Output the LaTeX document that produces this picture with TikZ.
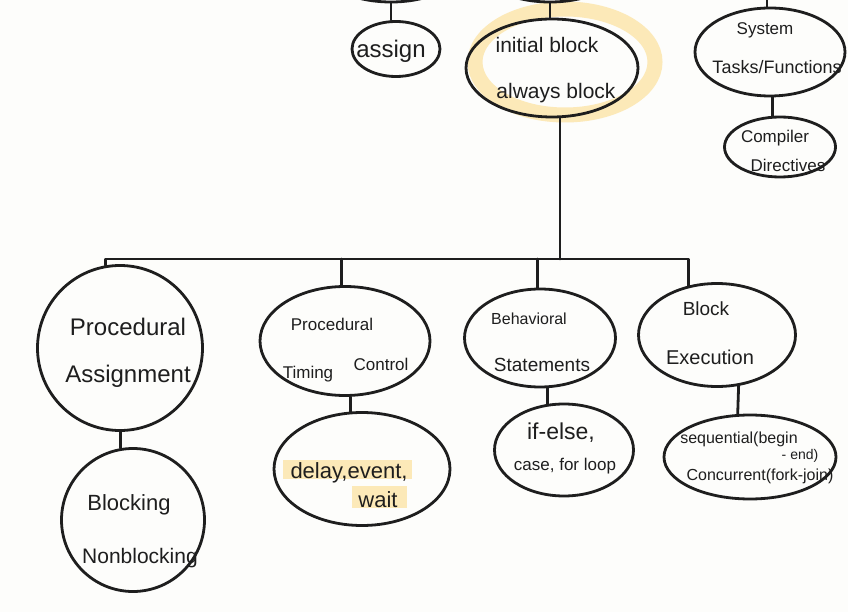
\documentclass[tikz,border=0pt]{standalone}
\usepackage{fontspec}
\setmainfont{Liberation Sans}
\usetikzlibrary{shapes.geometric}
\definecolor{ink}{HTML}{1E1E1E}
\definecolor{hl}{HTML}{FCE9B8}
\definecolor{bg}{HTML}{FDFDFB}
\newcommand\hwsize[1]{\fontsize{#1}{#1}\selectfont}
\begin{document}
\begin{tikzpicture}[x=1pt,y=-1pt,
  bub/.style={draw=ink,line width=2.8pt,ellipse,inner sep=0pt},
  ball/.style={draw=ink,line width=2.8pt,circle,inner sep=0pt},
  link/.style={draw=ink,line width=2.8pt,line cap=round,line join=round},
  hw/.style={text=ink,inner sep=0pt,anchor=base,font=\hwsize{#1}},
  hlring/.style={draw=hl,line width=15pt}
]
\fill[bg] (0,0) rectangle (848,612);
\useasboundingbox (0,0) rectangle (848,612);
\clip (0,0) rectangle (848,612);

% highlight ring around initial/always block
\draw[hlring] (565,62) ellipse [x radius=90, y radius=53];

% bubbles
\node[bub, minimum width=118pt, minimum height=48pt] (p1) at (391,-22) {};
\node[bub, minimum width=118pt, minimum height=48pt] (p2) at (550,-22) {};
\node[bub, minimum width=88pt, minimum height=55pt] (assign) at (396,49) {};
\node[bub, minimum width=172pt, minimum height=98pt] (ib) at (552,68) {};
\node[bub, minimum width=150pt, minimum height=88pt] (sys) at (770,52) {};
\node[bub, minimum width=111pt, minimum height=60pt] (cd) at (780,147) {};
\node[ball, minimum size=165pt] (pa) at (120,348) {};
\node[ball, minimum size=143pt] (bl) at (133,520) {};
\node[bub, minimum width=170pt, minimum height=109pt] (ptc) at (345,341) {};
\node[bub, minimum width=176pt, minimum height=113pt] (dew) at (362,469) {};
\node[bub, minimum width=151pt, minimum height=98pt] (bs) at (540,338) {};
\node[bub, minimum width=157pt, minimum height=103pt] (be) at (717,335) {};
\node[bub, minimum width=139pt, minimum height=92pt] (ife) at (564,450) {};
\node[bub, minimum width=172pt, minimum height=84pt] (seq) at (750,457) {};

% connectors
\coordinate (barL) at (0,259);
\coordinate (systop) at (767,0);
\draw[link] (p1.south) -- (p1.south |- assign.north);
\draw[link] (p2.south) -- (p2.south |- ib.north);
\draw[link] (systop) -- (systop |- sys.north);
\draw[link] (cd.103) -- (cd.103 |- sys.south);
\draw[link] (ib.-81) -- (ib.-81 |- barL);
\draw[link] (pa.100) -- (pa.100 |- barL) -- (be.120 |- barL) -- (be.120);
\draw[link] (ptc.94) -- (ptc.94 |- barL);
\draw[link] (bs.93) -- (bs.93 |- barL);
\draw[link] (bl.100) -- (bl.100 |- pa.south);
\draw[link] (dew.101) -- (dew.101 |- ptc.south);
\draw[link] (ife.110) -- (ife.110 |- bs.south);
\draw[link] (seq.106) -- (be.-67);

% text highlights
\fill[hl] (283,460) rectangle (412,479);
\fill[hl] (352,486) rectangle (407,508);

% texts
\node[hw=24] (t1) at (391,58) {assign};
\node[hw=21] (t2) at (547,53) {initial block};
\node[hw=21] (t3) at (556,99) {always block};
\node[hw=17] (t4) at (765,35) {System};
\node[hw=18] (t5) at (777,74) {Tasks/Functions};
\node[hw=17] (t6) at (775,143) {Compiler};
\node[hw=17] (t7) at (788,172) {Directives};
\node[hw=24] (t8) at (128,335) {Procedural};
\node[hw=24] (t9) at (128,382) {Assignment};
\node[hw=22] (t10) at (129,510) {Blocking};
\node[hw=21] (t11) at (140,563) {Nonblocking};
\node[hw=17] (t12) at (332,330) {Procedural};
\node[hw=17] (t13) at (308,378) {Timing};
\node[hw=17] (t14) at (381,370) {Control};
\node[hw=22] (t15) at (349,478) {delay,event,};
\node[hw=22] (t16) at (378,507) {wait};
\node[hw=16] (t17) at (529,324) {Behavioral};
\node[hw=19] (t18) at (542,371) {Statements};
\node[hw=19] (t19) at (706,315) {Block};
\node[hw=20] (t20) at (710,364) {Execution};
\node[hw=23] (t21) at (561,439) {if-else,};
\node[hw=17] (t22) at (565,470) {case, for loop};
\node[hw=16] (t23) at (739,443) {sequential(begin};
\node[hw=14] (t24) at (800,459) {- end)};
\node[hw=16] (t25) at (760,480) {Concurrent(fork-join)};
\end{tikzpicture}
\end{document}
